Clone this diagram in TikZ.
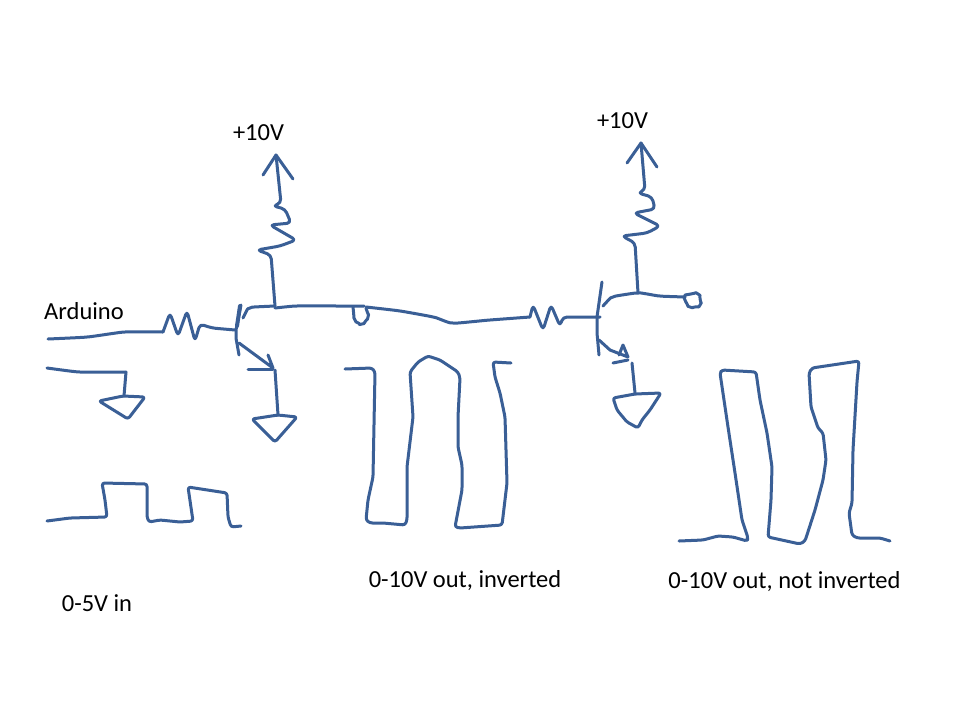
\documentclass[tikz,border=0pt]{standalone}
\usepackage{fontspec}
\setmainfont{Carlito}
\definecolor{ink}{HTML}{3A5F96}
\tikzset{
  pen/.style={draw=ink,line width=3pt,line cap=round,line join=round,rounded corners=2.5pt},
  coil/.style={draw=ink,line width=3pt,line cap=round,line join=round,rounded corners=4pt},
  scribble/.style={smooth,tension=0.3},
  lab/.style={text=black,inner sep=0pt,font=\fontsize{24.5}{28}\selectfont}
}
\begin{document}
\begin{tikzpicture}[x=1pt,y=-1pt]
\useasboundingbox (0,0) rectangle (960,720);
\fill[white] (0,0) rectangle (960,720);
% labels
\node[lab] (v1) at (258.5,132.5) {+10V};
\node[lab] (v2) at (622.5,120.5) {+10V};
\node[lab] (ard) at (84,311.5) {Arduino};
\node[lab] (in) at (97,603.5) {0-5V in};
\node[lab] (out1) at (465,581) {0-10V out, inverted};
\node[lab] (out2) at (784.5,582) {0-10V out, not inverted};
% input wire and first resistor
\draw[pen] plot[scribble] coordinates {(48,339) (87,337) (125,332) (163,332)};
\draw[coil] (163,332) -- (170,313) -- (178,336) -- (187,311) -- (195,341) -- (200,324) -- (212,328) -- (235,330);
% first transistor
\draw[pen,rounded corners=0pt] (241,305) -- (236,330) -- (236,338) -- (239,355);
\draw[pen,rounded corners=0pt,line width=4pt] (240,306) -- (237,326);
\draw[pen] plot[scribble] coordinates {(243,318) (250,308) (275,306)};
\draw[pen,rounded corners=0pt] (239,343) -- (273,368) -- (268,355);
\draw[pen,rounded corners=0pt] (248,369) -- (273,369);
% first pull-up
\draw[coil] (275,306) -- (271,255) -- (257,250) -- (280,246) -- (296,240) -- (270,225) -- (291,223) -- (285,209) -- (273,206) -- (281,203) -- (276,155);
\draw[pen,rounded corners=0pt] (263,175) -- (276,155) -- (293,179);
% first emitter ground
\draw[pen] (275,370) -- (278,415);
\draw[pen] (252,419) -- (278,415) -- (297,417) -- (275,442) -- cycle;
% input ground
\draw[pen] plot[scribble] coordinates {(47,368) (80,372) (126,372)};
\draw[pen] (126,372) -- (124,396);
\draw[pen] (99,401) -- (123,396) -- (145,397) -- (128,419) -- cycle;
% link between transistors
\draw[pen] plot[scribble] coordinates {(275,308) (297,306) (340,306) (364,306)};
\draw[pen] plot[scribble] coordinates {(353,307) (355,320) (362,324) (368,317) (366,308)};
\draw[pen] plot[scribble] coordinates {(366,307) (400,311) (433,317) (453,323) (490,320) (530,317)};
\draw[coil] (530,317) -- (533,305) -- (543,330) -- (551,305) -- (560,326) -- (563,317) -- (600,317);
% second transistor
\draw[pen,rounded corners=0pt] (602,282) -- (597,317) -- (597,333) -- (599,355);
\draw[pen] plot[scribble] coordinates {(603,306) (613,297) (638,293) (660,296) (685,297)};
\draw[pen] plot[scribble] coordinates {(685,295) (698,294) (700,305) (690,307) (685,300) (685,295)};
\draw[pen,rounded corners=0pt] (599,340) -- (610,350) -- (628,357) -- (623,345) -- (619,355);
\draw[pen] (613,363) -- (628,360);
% second pull-up
\draw[coil] (638,293) -- (635,243) -- (622,236) -- (647,233) -- (660,226) -- (634,213) -- (655,209) -- (652,197) -- (638,193) -- (645,190) -- (641,143);
\draw[pen,rounded corners=0pt] (627,163) -- (641,143) -- (657,167);
% second emitter ground
\draw[pen] (632,363) -- (635,393);
\draw[pen] (613,398) -- (635,394) -- (661,393) -- (650,410) -- (642,420) -- (638,428) -- (627,422) -- (617,410) -- cycle;
% waveform in
\draw[pen] (47,521) -- (70,518) -- (107,517) -- (105,500) -- (102,483) -- (147,484) -- (147,517) -- (149,522) -- (160,520) -- (180,522) -- (193,521) -- (188,487) -- (227,493) -- (228,517) -- (231,527) -- (241,526);
% waveform inverted
\draw[pen] (345,369) -- (372,368) -- (375,372) -- (373,477) -- (368,500) -- (366,520) -- (370,523) -- (383,523) -- (405,525) -- (407,520) -- (407,467) -- (413,417) -- (410,372) -- (418,362) -- (428,356) -- (440,360) -- (458,372) -- (460,378) -- (458,417) -- (458,447) -- (462,465) -- (462,490) -- (455,527) -- (460,528) -- (502,525) -- (507,483) -- (505,417) -- (500,393) -- (495,377) -- (493,362) -- (511,363);
% waveform not inverted
\draw[pen] (679,541) -- (703,540) -- (718,536) -- (733,537) -- (747,541) -- (748,538) -- (742,520) -- (735,473) -- (728,427) -- (720,373) -- (722,370) -- (756,372) -- (760,400) -- (767,433) -- (772,467) -- (771,500) -- (768,537) -- (800,544) -- (805,541) -- (815,510) -- (823,480) -- (826,460) -- (823,433) -- (818,428) -- (811,407) -- (809,373) -- (812,368) -- (859,361) -- (857,382) -- (853,450) -- (852,503) -- (849,513) -- (852,535) -- (857,538) -- (880,538) -- (890,541);
\end{tikzpicture}
\end{document}
